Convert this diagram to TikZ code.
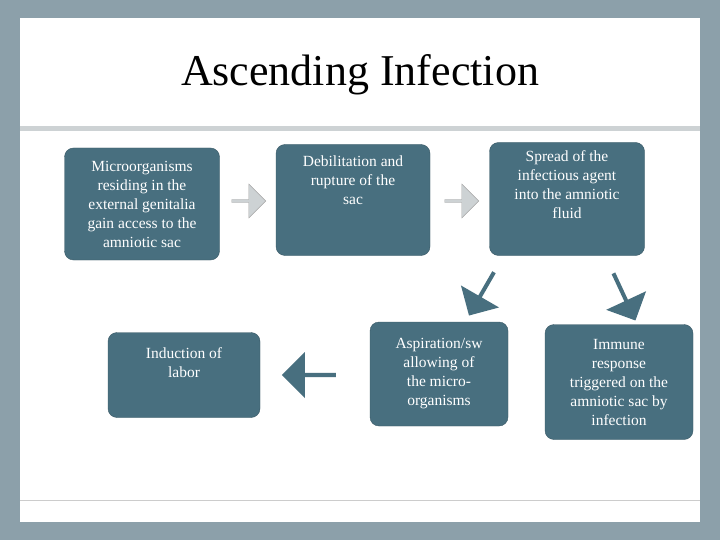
\documentclass[tikz,border=0pt]{standalone}
\usepackage{fontspec}
\setmainfont{Liberation Serif}
\usetikzlibrary{shapes.arrows}
\definecolor{slide.frame}{RGB}{140,160,170}
\definecolor{slide.box}{RGB}{72,111,127}
\definecolor{slide.gray}{RGB}{205,210,212}

\begin{document}
\begin{tikzpicture}[x=1pt,y=-1pt]
  \tikzset{stage/.append style={rectangle, rounded corners=9pt, fill=slide.box,
      draw=slide.box!80!black, text=white, align=center, inner sep=3pt,
      font=\fontsize{15.5}{19}\selectfont},
    harrow/.append style={single arrow, draw=gray!70, fill=slide.gray,
      minimum height=34pt, minimum width=34pt, single arrow head extend=2pt,
      inner sep=0pt},
    barrow/.append style={single arrow, fill=slide.box, minimum height=50pt,
      minimum width=46pt, single arrow head extend=2pt, inner sep=0pt}}
  \fill[slide.frame] (0,0) rectangle (720,540);
  \fill[white] (20,18) rectangle (700,522);
  \fill[slide.gray] (20,126) rectangle (700,131);
  \draw[gray!40] (20,500) -- (700,500);

  \node (title) at (360,75) {\fontsize{44}{50}\selectfont Ascending Infection};

  \node[stage, minimum width=155pt, minimum height=112pt] (s1) at (142,204)
    {Microorganisms\\residing in the\\external genitalia\\gain access to the\\amniotic sac};
  \node[stage, minimum width=154pt, minimum height=111pt] (s2) at (353,200)
    {Debilitation and\\rupture of the\\sac\\[1.4em]};
  \node[stage, minimum width=155pt, minimum height=113pt] (s3) at (567,199)
    {Spread of the\\infectious agent\\into the amniotic\\fluid\\[0.6em]};
  \node[stage, minimum width=138pt, minimum height=104pt] (s4) at (439,374)
    {Aspiration/sw\\allowing of\\the micro-\\organisms};
  \node[stage, minimum width=148pt, minimum height=115pt] (s5) at (619,382)
    {Immune\\response\\triggered on the\\amniotic sac by\\infection};
  \node[stage, minimum width=152pt, minimum height=85pt] (s6) at (184,375)
    {Induction of\\labor\\[0.4em]};

  \node[harrow] (a12) at (248,201) {};
  \node[harrow] (a23) at (461,201) {};
  \node[barrow, rotate=-120, minimum height=50pt, minimum width=44pt] (a34) at (482,293) {};
  \node[barrow, rotate=-65, minimum height=52pt, minimum width=44pt] (a35) at (624,296) {};
  \node[barrow, rotate=180, minimum height=54pt, minimum width=46pt] (a46) at (310,375) {};
\end{tikzpicture}
\end{document}
